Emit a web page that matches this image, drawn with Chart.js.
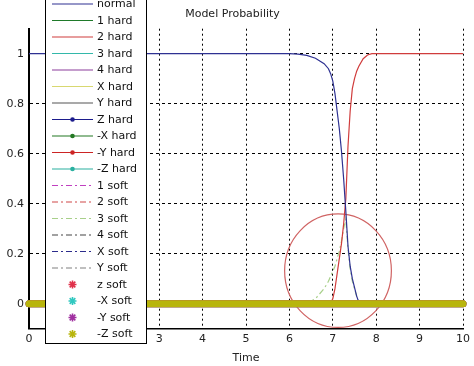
<!DOCTYPE html>
<html>
<head>
<meta charset="utf-8">
<script src="https://cdn.jsdelivr.net/npm/chart.js@4.4.1/dist/chart.umd.min.js"></script>
<style>
  html, body { margin: 0; padding: 0; background: #fff; }
  #wrap { width: 474px; height: 366px; }
</style>
</head>
<body>
<div id="wrap"><canvas id="prob-chart" width="474" height="366"></canvas></div>
<script>
// sample times and model probabilities
const time = [0, 1, 2, 3, 4, 5, 6, 6.2, 6.4, 6.6, 6.8, 6.9, 6.95, 7.0, 7.05, 7.1, 7.15, 7.2, 7.25, 7.3, 7.35, 7.4, 7.45, 7.5, 7.55, 7.6, 7.7, 7.8, 7.9, 8, 9, 10];

const normal = [1, 1, 1, 1, 1, 1, 1, 0.998, 0.993, 0.982, 0.96, 0.94, 0.92, 0.89, 0.84, 0.77, 0.70, 0.61, 0.50, 0.37, 0.23, 0.15, 0.10, 0.065, 0.03, 0.006, 0, 0, 0, 0, 0, 0];
const hard2 = [0, 0, 0, 0, 0, 0, 0, 0, 0, 0, 0, 0, 0.003, 0.02, 0.06, 0.12, 0.18, 0.24, 0.32, 0.42, 0.63, 0.77, 0.86, 0.90, 0.93, 0.95, 0.98, 0.995, 1, 1, 1, 1];
const soft3 = [0, 0, 0, 0, 0, 0, 0, 0, 0, 0.02, 0.06, 0.09, 0.11, 0.13, 0.15, 0.18, 0.21, 0.25, 0.30, 0.34, 0.22, 0.14, 0.09, 0.06, 0.03, 0.005, 0, 0, 0, 0, 0, 0];
const flat = [0, 0, 0, 0, 0, 0, 0, 0, 0, 0, 0, 0, 0, 0, 0, 0, 0, 0, 0, 0, 0, 0, 0, 0, 0, 0, 0, 0, 0, 0, 0, 0];

const seriesNames = ['normal', '1 hard', '2 hard', '3 hard', '4 hard', 'X hard', 'Y hard', 'Z hard', '-X hard', '-Y hard', '-Z hard',
  '1 soft', '2 soft', '3 soft', '4 soft', 'X soft', 'Y soft', 'z soft', '-X soft', '-Y soft', '-Z soft'];
const seriesValues = [normal, flat, hard2, flat, flat, flat, flat, flat, flat, flat, flat,
  flat, flat, soft3, flat, flat, flat, flat, flat, flat, flat];

const xTicks = [0, 1, 2, 3, 4, 5, 6, 7, 8, 9, 10];
const yTicks = [0, 0.2, 0.4, 0.6, 0.8, 1];

// look of each series: line kind and colour
const seriesKinds = ['solid', 'solid', 'solid', 'solid', 'solid', 'solid', 'solid', 'dot', 'dot', 'dot', 'dot',
  'dash', 'dash', 'dash', 'dash', 'dash', 'dash', 'star', 'star', 'star', 'star'];
const seriesColors = ['#2e3192', '#1f7a2a', '#d03c3c', '#33b8aa', '#8b3c9b', '#d8d870', '#555555', '#1c1c8c', '#237823', '#cc2424', '#2ab0a0',
  '#c040c0', '#d04848', '#a8d08a', '#444444', '#2c2c8c', '#808080', '#e0304a', '#30c8c0', '#a030a0', '#b8b50c'];

// the red ring drawn round the switch-over (data units)
const ring = { x: 7.12, y: 0.132, rx: 1.23, ry: 0.227, color: '#d06464' };

const FONT = 'DejaVu Sans';

const datasets = seriesNames.map((name, i) => {
  const kind = seriesKinds[i];
  const ds = {
    label: name,
    data: time.map((t, k) => ({ x: t, y: seriesValues[i][k] })),
    borderColor: seriesColors[i],
    backgroundColor: seriesColors[i],
    borderWidth: 1.2,
    pointRadius: 0,
    tension: 0,
    fill: false,
    order: 0
  };
  if (kind === 'dash') ds.borderDash = [6, 3, 2, 3];
  if (kind === 'star') {
    // star markers packed along zero make a thick band
    ds.borderWidth = 7;
    ds.borderCapStyle = 'round';
    ds.clip = false;
    ds.order = name === '-Z soft' ? -2 : -1;
  }
  return ds;
});

const ringPlugin = {
  id: 'ring',
  beforeDatasetsDraw(chart) {
    const { ctx, scales: { x, y } } = chart;
    const cx = x.getPixelForValue(ring.x);
    const cy = y.getPixelForValue(ring.y);
    const rx = x.getPixelForValue(ring.x + ring.rx) - cx;
    const ry = cy - y.getPixelForValue(ring.y + ring.ry);
    ctx.save();
    ctx.strokeStyle = ring.color;
    ctx.lineWidth = 1.2;
    ctx.beginPath();
    ctx.ellipse(cx, cy, rx, ry, 0, 0, Math.PI * 2);
    ctx.stroke();
    ctx.restore();
  }
};

const legendBox = { left: 45.5, right: 146.5, top: -12, bottom: 343.5, rowTop: 4, rowStep: 16.5, lineFrom: 52, lineTo: 93, textX: 97 };

function drawStar(ctx, px, py, r, color) {
  ctx.save();
  ctx.strokeStyle = color;
  ctx.lineWidth = 1.6;
  ctx.beginPath();
  for (let a = 0; a < 4; a++) {
    const ang = a * Math.PI / 4;
    ctx.moveTo(px - r * Math.cos(ang), py - r * Math.sin(ang));
    ctx.lineTo(px + r * Math.cos(ang), py + r * Math.sin(ang));
  }
  ctx.stroke();
  ctx.restore();
}

const boxLegend = {
  id: 'boxLegend',
  afterDraw(chart) {
    const ctx = chart.ctx;
    const b = legendBox;
    ctx.save();
    ctx.fillStyle = '#fff';
    ctx.fillRect(b.left, b.top, b.right - b.left, b.bottom - b.top);
    ctx.strokeStyle = '#000';
    ctx.lineWidth = 1;
    ctx.strokeRect(b.left, b.top, b.right - b.left, b.bottom - b.top);
    ctx.font = '11px "' + FONT + '"';
    ctx.textBaseline = 'middle';
    ctx.textAlign = 'left';
    seriesNames.forEach((name, i) => {
      const ry = b.rowTop + i * b.rowStep;
      const kind = seriesKinds[i];
      const col = seriesColors[i];
      const mid = (b.lineFrom + b.lineTo) / 2;
      if (kind === 'star') {
        drawStar(ctx, mid, ry, 4, col);
      } else {
        ctx.strokeStyle = col;
        ctx.lineWidth = 1.2;
        ctx.setLineDash(kind === 'dash' ? [6, 3, 2, 3] : []);
        ctx.beginPath();
        ctx.moveTo(b.lineFrom, ry);
        ctx.lineTo(b.lineTo, ry);
        ctx.stroke();
        ctx.setLineDash([]);
        if (kind === 'dot') {
          ctx.fillStyle = col;
          ctx.beginPath();
          ctx.arc(mid, ry, 2.3, 0, Math.PI * 2);
          ctx.fill();
        }
      }
      ctx.fillStyle = '#111';
      ctx.fillText(name, b.textX, ry + 0.5);
    });
    ctx.restore();
  }
};

const tickFont = { family: FONT, size: 11 };

new Chart(document.getElementById('prob-chart'), {
  type: 'line',
  data: { datasets: datasets },
  options: {
    responsive: false,
    animation: false,
    events: [],
    layout: { padding: { left: 0, right: 9, top: 0, bottom: 0 } },
    plugins: {
      legend: { display: false },
      tooltip: { enabled: false },
      title: {
        display: true,
        text: 'Model Probability',
        color: '#222',
        font: { family: FONT, size: 11, weight: 'normal' },
        padding: { top: 8, bottom: 7.5 }
      }
    },
    scales: {
      x: {
        type: 'linear',
        min: 0,
        max: 10,
        afterBuildTicks: (s) => { s.ticks = xTicks.map(v => ({ value: v })); },
        ticks: { font: tickFont, color: '#222', padding: 4, maxRotation: 0, autoSkip: false, callback: v => String(v) },
        grid: { color: '#000', lineWidth: 1, drawTicks: false },
        border: { display: true, color: '#000', width: 1.5, dash: [2, 3] },
        title: { display: true, text: 'Time', color: '#222', font: tickFont, padding: { top: 1.5, bottom: 1.4 } }
      },
      y: {
        type: 'linear',
        min: -0.1,
        max: 1.1,
        afterBuildTicks: (s) => { s.ticks = yTicks.map(v => ({ value: v })); },
        afterFit: (s) => { s.width = 29; },
        ticks: { font: tickFont, color: '#222', padding: 5, callback: v => String(v) },
        grid: { color: '#000', lineWidth: 1, drawTicks: false },
        border: { display: true, color: '#000', width: 2, dash: [3, 3] }
      }
    }
  },
  plugins: [ringPlugin, boxLegend]
});
</script>
</body>
</html>
